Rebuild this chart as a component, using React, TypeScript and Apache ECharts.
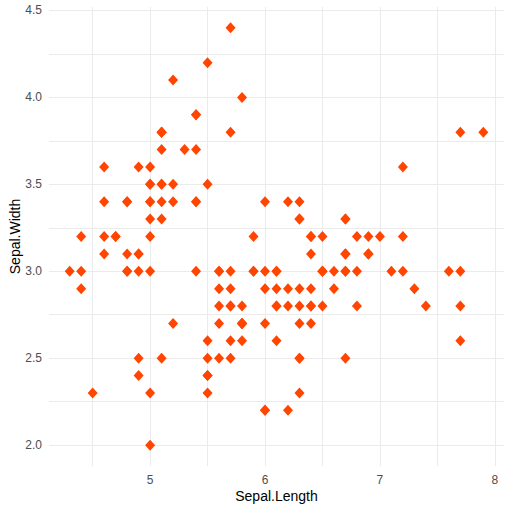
import React, { useEffect, useRef } from "react";
import * as echarts from "echarts";

const sepalLength = [
  5.1, 4.9, 4.7, 4.6, 5.0, 5.4, 4.6, 5.0, 4.4, 4.9, 5.4, 4.8, 4.8, 4.3, 5.8, 5.7, 5.4, 5.1, 5.7, 5.1,
  5.4, 5.1, 4.6, 5.1, 4.8, 5.0, 5.0, 5.2, 5.2, 4.7, 4.8, 5.4, 5.2, 5.5, 4.9, 5.0, 5.5, 4.9, 4.4, 5.1,
  5.0, 4.5, 4.4, 5.0, 5.1, 4.8, 5.1, 4.6, 5.3, 5.0,
  7.0, 6.4, 6.9, 5.5, 6.5, 5.7, 6.3, 4.9, 6.6, 5.2, 5.0, 5.9, 6.0, 6.1, 5.6, 6.7, 5.6, 5.8, 6.2, 5.6,
  5.9, 6.1, 6.3, 6.1, 6.4, 6.6, 6.8, 6.7, 6.0, 5.7, 5.5, 5.5, 5.8, 6.0, 5.4, 6.0, 6.7, 6.3, 5.6, 5.5,
  5.5, 6.1, 5.8, 5.0, 5.6, 5.7, 5.7, 6.2, 5.1, 5.7,
  6.3, 5.8, 7.1, 6.3, 6.5, 7.6, 4.9, 7.3, 6.7, 7.2, 6.5, 6.4, 6.8, 5.7, 5.8, 6.4, 6.5, 7.7, 7.7, 6.0,
  6.9, 5.6, 7.7, 6.3, 6.7, 7.2, 6.2, 6.1, 6.4, 7.2, 7.4, 7.9, 6.4, 6.3, 6.1, 7.7, 6.3, 6.4, 6.0, 6.9,
  6.7, 6.9, 5.8, 6.8, 6.7, 6.7, 6.3, 6.5, 6.2, 5.9,
];

const sepalWidth = [
  3.5, 3.0, 3.2, 3.1, 3.6, 3.9, 3.4, 3.4, 2.9, 3.1, 3.7, 3.4, 3.0, 3.0, 4.0, 4.4, 3.9, 3.5, 3.8, 3.8,
  3.4, 3.7, 3.6, 3.3, 3.4, 3.0, 3.4, 3.5, 3.4, 3.2, 3.1, 3.4, 4.1, 4.2, 3.1, 3.2, 3.5, 3.6, 3.0, 3.4,
  3.5, 2.3, 3.2, 3.5, 3.8, 3.0, 3.8, 3.2, 3.7, 3.3,
  3.2, 3.2, 3.1, 2.3, 2.8, 2.8, 3.3, 2.4, 2.9, 2.7, 2.0, 3.0, 2.2, 2.9, 2.9, 3.1, 3.0, 2.7, 2.2, 2.5,
  3.2, 2.8, 2.5, 2.8, 2.9, 3.0, 2.8, 3.0, 2.9, 2.6, 2.4, 2.4, 2.7, 2.7, 3.0, 3.4, 3.1, 2.3, 3.0, 2.5,
  2.6, 3.0, 2.6, 2.3, 2.7, 3.0, 2.9, 2.9, 2.5, 2.8,
  3.3, 2.7, 3.0, 2.9, 3.0, 3.0, 2.5, 2.9, 2.5, 3.6, 3.2, 2.7, 3.0, 2.5, 2.8, 3.2, 3.0, 3.8, 2.6, 2.2,
  3.2, 2.8, 2.8, 2.7, 3.3, 3.2, 2.8, 3.0, 2.8, 3.0, 2.8, 3.8, 2.8, 2.8, 2.6, 3.0, 3.4, 3.1, 3.0, 3.1,
  3.1, 3.1, 2.7, 3.2, 3.3, 3.0, 2.5, 3.0, 3.4, 3.0,
];

const xLabels = [5, 6, 7, 8];
const xGrid = [4.5, 5, 5.5, 6, 6.5, 7, 7.5, 8];
const yLabels = [2.0, 2.5, 3.0, 3.5, 4.0, 4.5];
const yGrid = [2.0, 2.25, 2.5, 2.75, 3.0, 3.25, 3.5, 3.75, 4.0, 4.25, 4.5];

export default function App() {
  const ref = useRef<HTMLDivElement>(null);
  useEffect(() => {
    if (!ref.current) return;
    const chart = echarts.init(ref.current, null, { renderer: "svg" });
    const data = sepalLength.map((x, i) => [x, sepalWidth[i]]);
    const font = "Liberation Sans, Arial, sans-serif";
    chart.setOption({
      animation: false,
      backgroundColor: "#ffffff",
      grid: { left: 49, right: 8, top: 7, bottom: 45, containLabel: false, outerBoundsMode: "none" },
      xAxis: {
        type: "value",
        min: 4.12,
        max: 8.08,
        name: "Sepal.Length",
        nameLocation: "middle",
        nameGap: 23,
        nameMoveOverlap: false,
        nameTextStyle: { color: "#000000", fontSize: 14, fontFamily: font },
        axisLine: { show: false },
        axisTick: { show: false, customValues: xGrid },
        splitLine: { show: true, lineStyle: { color: "#EBEBEB", width: 1 } },
        axisLabel: {
          customValues: xLabels,
          color: "#4D4D4D",
          fontSize: 12,
          fontFamily: font,
          margin: 8,
          formatter: (v: number) => String(v),
        },
      },
      yAxis: {
        type: "value",
        min: 1.88,
        max: 4.52,
        name: "Sepal.Width",
        nameLocation: "middle",
        nameGap: 27,
        nameMoveOverlap: false,
        nameRotate: 90,
        nameTextStyle: { color: "#000000", fontSize: 14, fontFamily: font },
        axisLine: { show: false },
        axisTick: { show: false, customValues: yGrid },
        splitLine: { show: true, lineStyle: { color: "#EBEBEB", width: 1 } },
        axisLabel: {
          customValues: yLabels,
          color: "#4D4D4D",
          fontSize: 12,
          fontFamily: font,
          margin: 7,
          formatter: (v: number) => v.toFixed(1),
        },
      },
      series: [
        {
          type: "scatter",
          data,
          symbol: "diamond",
          symbolSize: [10, 11],
          itemStyle: { color: "#FF4500", opacity: 1 },
        },
      ],
    });
    return () => chart.dispose();
  }, []);
  return (
    <div
      ref={ref}
      style={{ position: "fixed", left: 0, top: 0, width: 512, height: 511 }}
    />
  );
}
